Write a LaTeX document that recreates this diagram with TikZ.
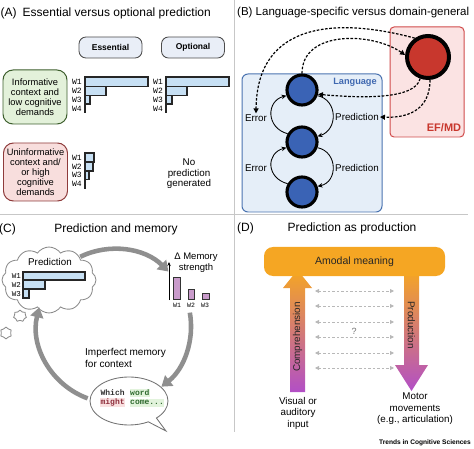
\documentclass[tikz,border=0pt]{standalone}
\usepackage{fontspec}
\setmainfont{Liberation Sans}
\setmonofont{Liberation Mono}
\usetikzlibrary{calc,arrows.meta,shapes.symbols,shapes.callouts}
\def\fsz#1#2{\fontsize{#1}{#2}\selectfont}
\def\hlword#1#2#3{{\setlength{\fboxsep}{0.4pt}\colorbox{#1}{\rule[-1.6pt]{0pt}{7.2pt}\textcolor{#2}{#3}}}}
\definecolor{barblue}{HTML}{C7E0F4}
\definecolor{tagfill}{HTML}{E9EEF7}
\definecolor{greenfill}{HTML}{E3F1DA}
\definecolor{greenline}{HTML}{3E5F2E}
\definecolor{redfill}{HTML}{F8DEDD}
\definecolor{redline}{HTML}{8E3B3B}
\definecolor{langfill}{HTML}{E5EEF8}
\definecolor{langline}{HTML}{4A73B0}
\definecolor{langtext}{HTML}{3F68B0}
\definecolor{efline}{HTML}{D04A4A}
\definecolor{effill}{HTML}{FBE3E3}
\definecolor{efred}{HTML}{C8372D}
\definecolor{nodeblue}{HTML}{3A63B5}
\definecolor{memfill}{HTML}{C99BCB}
\definecolor{loopgray}{HTML}{8F8F8F}
\definecolor{amodal}{HTML}{F5A623}
\definecolor{motor}{HTML}{B24FC6}
\definecolor{wordgreen}{HTML}{E2F3DC}
\definecolor{wordred}{HTML}{F9E0E0}
\definecolor{inkgreen}{HTML}{2F6A2F}
\definecolor{inkred}{HTML}{8E2E3C}
\tikzset{
	paneltitle/.style={font=\fsz{12}{14}, anchor=base west, inner sep=0pt},
	tagbox/.style={draw=black!70, line width=0.3mm, fill=tagfill, rounded corners=7pt, minimum width=63pt, minimum height=21pt, font=\bfseries\fsz{8.5}{10}},
	condbox/.style={line width=0.35mm, rounded corners=10pt, minimum width=64pt, align=center, font=\fsz{9.3}{10}, inner sep=1pt},
	wlabel/.style={font=\ttfamily\fsz{8}{8}, anchor=east, inner sep=1pt},
	wbar/.style={draw=black!85, line width=0.4mm, fill=barblue},
	wordaxis/.style={line width=0.45mm, color=black!85},
	langnode/.style={circle, draw=black, line width=1.1mm, fill=nodeblue, minimum size=30pt, inner sep=0pt},
	errlink/.style={-{Stealth[length=5pt,width=4.5pt]}, line width=0.3mm},
	dotlink/.style={-{Triangle[length=5pt,width=5pt]}, line width=0.42mm, dash pattern=on 2.6pt off 1.6pt},
	cyclearrow/.style={line width=1.6mm, draw=loopgray, -{Triangle[length=10pt,width=13pt]}},
	membar/.style={draw=black!80, line width=0.3mm, fill=memfill},
	qarrow/.style={{Triangle[length=4pt,width=4pt]}-{Triangle[length=4pt,width=4pt]}, draw=black!28, dash pattern=on 2.5pt off 2pt, line width=0.3mm},
	bodytext/.style={font=\fsz{9.8}{11.5}, align=center, inner sep=1pt},
	codeline/.style={font=\ttfamily\bfseries\fsz{8}{9.5}, anchor=west, inner sep=0pt}
}

\begin{document}
\begin{tikzpicture}[x=1pt,y=-1pt]
			%%%%% START %%%%%
			\useasboundingbox (0,0) rectangle (474,449);
			
			\draw[line width=0.3mm, color=black!22] (0,214) -- (468,214);
			\draw[line width=0.3mm, color=black!22] (234,0) -- (234,432);
			
			%%%%% (A) %%%%%
			\node[paneltitle] (titleA) at (0.5,17) {(A)\enspace Essential versus optional prediction};
			\node[tagbox] (essential) at (110.5,47.5) {Essential};
			\node[tagbox] (optional) at (193,47.5) {Optional};
			
			\node[condbox, draw=greenline, fill=greenfill, minimum height=54pt] (informative) at (35,97) {Informative\\context and\\low cognitive\\demands};
			\node[condbox, draw=redline, fill=redfill, minimum height=58pt] (uninformative) at (35.5,172) {Uninformative\\context and/\\or high\\cognitive\\demands};
			
			\draw[wbar] (85,77) rectangle (148,86.5);
			\draw[wbar] (85,86.5) rectangle (106,95.5);
			\draw[wbar] (85,95.5) rectangle (90,104);
			\draw[wordaxis] (85,77) -- (85,113);
			\node[wlabel] (ea1) at (83,81.5) {W1};
			\node[wlabel] (ea2) at (83,91) {W2};
			\node[wlabel] (ea3) at (83,100) {W3};
			\node[wlabel] (ea4) at (83,109) {W4};
			
			\draw[wbar] (166,77) rectangle (229,86.5);
			\draw[wbar] (166,86.5) rectangle (187,95.5);
			\draw[wbar] (166,95.5) rectangle (172,104);
			\draw[wordaxis] (166,77) -- (166,113);
			\node[wlabel] (oa1) at (164,81.5) {W1};
			\node[wlabel] (oa2) at (164,91) {W2};
			\node[wlabel] (oa3) at (164,100) {W3};
			\node[wlabel] (oa4) at (164,109) {W4};
			
			\draw[wbar] (85,153) rectangle (94,162);
			\draw[wbar] (85,162) rectangle (93,171);
			\draw[wbar] (85,171) rectangle (89,179.5);
			\draw[wordaxis] (85,152) -- (85,189);
			\node[wlabel] (eb1) at (83,157.5) {W1};
			\node[wlabel] (eb2) at (83,166.5) {W2};
			\node[wlabel] (eb3) at (83,175) {W3};
			\node[wlabel] (eb4) at (83,184) {W4};
			
			\node[bodytext, font=\fsz{9.8}{10.5}] (noprediction) at (189,174) {No\\prediction\\generated};
			
			%%%%% (B) %%%%%
			\node[paneltitle, font=\fsz{11.5}{14}] (titleB) at (237,16) {(B) Language-specific versus domain-general};
			
			\draw[line width=0.35mm, color=langline, fill=langfill, rounded corners=6pt] (242,74) rectangle (382,212);
			\draw[line width=0.35mm, color=efline, fill=effill, rounded corners=4pt] (390,27) rectangle (464,137);
			\node[font=\bfseries\fsz{9.2}{10}, color=langtext] (language) at (355,82) {Language};
			\node[font=\bfseries\fsz{11}{12}, color=efred] (efmdlabel) at (444,128) {EF/MD};
			
			\node[langnode] (top) at (302,90) {};
			\node[langnode] (mid) at (302,142) {};
			\node[langnode] (bot) at (302,192) {};
			\node[circle, draw=black, line width=1.4mm, fill=efred, minimum size=42pt, inner sep=0pt] (efmd) at (428,57) {};
			
			\node[bodytext] (errup) at (256,118) {Error};
			\node[bodytext] (errdown) at (256,168) {Error};
			\node[bodytext] (predup) at (357,117) {Prediction};
			\node[bodytext] (preddown) at (357,168) {Prediction};
			
			\draw[errlink] (bot.150) .. controls (266,178) and (266,153) .. (mid.200);
			\draw[errlink] (mid.150) .. controls (266,128) and (266,101) .. (top.200);
			\draw[errlink] (top.-20) .. controls (338,100) and (338,130) .. (mid.20);
			\draw[errlink] (mid.-20) .. controls (338,152) and (338,182) .. (bot.20);
			
			\draw[dotlink] (efmd.125) .. controls (340,18) and (257,20) .. (errup.north);
			\draw[dotlink] (top.north) .. controls (302,30) and (372,32) .. (efmd.175);
			\draw[dotlink] (efmd.250) .. controls (415,100) and (360,98) .. (top.-15);
			\draw[dotlink] (efmd.275) .. controls (430,112) and (405,118) .. (predup.east);
			
			%%%%% (C) %%%%%
			\node[paneltitle] (titleC) at (-1,233) {(C)};
			\node[font=\fsz{12}{14}, anchor=base, inner sep=0pt] (headC) at (116,233) {Prediction and memory};
			
			\node[cloud, cloud puffs=12, cloud puff arc=110, aspect=1.5, draw=black!45, line width=0.3mm, fill=white, minimum width=94pt, minimum height=66pt] (thought) at (49,280) {};
			\node[cloud, cloud puffs=7, draw=black!45, line width=0.3mm, fill=white, minimum width=13pt, minimum height=11pt] (puffa) at (20,316) {};
			\node[cloud, cloud puffs=6, draw=black!45, line width=0.3mm, fill=white, minimum width=8pt, minimum height=7pt] (puffb) at (6,333) {};
			\node[bodytext] (predlabel) at (50,262) {Prediction};
			
			\draw[wbar] (23,272) rectangle (85,280);
			\draw[wbar] (23,280) rectangle (45,289);
			\draw[wbar] (23,289) rectangle (29,298);
			\node[wlabel, font=\ttfamily\fsz{7.5}{8}] (ca1) at (22,276) {W1};
			\node[wlabel, font=\ttfamily\fsz{7.5}{8}] (ca2) at (22,285) {W2};
			\node[wlabel, font=\ttfamily\fsz{7.5}{8}] (ca3) at (22,294) {W3};
			
			\node[bodytext, font=\fsz{9.5}{11}] (memstrength) at (196,263) {Δ Memory\\strength};
			\draw[line width=0.3mm, -{Stealth[length=4pt,width=3.5pt]}] (169,300) -- (169,262);
			\draw[membar] (173,277) rectangle (180,299);
			\draw[membar] (188,289) rectangle (194,299);
			\draw[membar] (202,293) rectangle (209,299);
			\node[font=\ttfamily\fsz{6.5}{7}, inner sep=0pt] (m1) at (177,305) {W1};
			\node[font=\ttfamily\fsz{6.5}{7}, inner sep=0pt] (m2) at (191,305) {W2};
			\node[font=\ttfamily\fsz{6.5}{7}, inner sep=0pt] (m3) at (205,305) {W3};
			
			\node[font=\fsz{10}{11.5}, align=left, anchor=west, inner sep=0pt] (imperfect) at (85,358) {Imperfect memory\\for context};
			\node[ellipse callout, draw=black!55, line width=0.3mm, fill=white, minimum width=78pt, minimum height=48pt, callout absolute pointer={(166,431)}] (bubble) at (129,401) {};
			\node[codeline] (lineone) at (100,393) {\hlword{white}{black!80}{Which} \hlword{wordgreen}{inkgreen}{word}};
			\node[codeline] (linetwo) at (100,402.5) {\hlword{wordred}{inkred}{might} \hlword{wordgreen}{inkgreen}{come...}};
			
			\draw[cyclearrow] (114,326) ++(-116:77) arc[start angle=-116, end angle=-45, radius=77];
			\draw[cyclearrow] (114,326) ++(-10:77) arc[start angle=-10, end angle=52, radius=77];
			\draw[cyclearrow] (114,326) ++(110:77) arc[start angle=110, end angle=194, radius=77];
			
			%%%%% (D) %%%%%
			\node[paneltitle] (titleD) at (237,232) {(D)};
			\node[font=\fsz{12}{14}, anchor=base, inner sep=0pt] (headD) at (352,232) {Prediction as production};
			
			\shade[top color=amodal, bottom color=motor] (290,392) -- (305,392) -- (305,288) -- (312,288) -- (297.5,270) -- (283,288) -- (290,288) -- cycle;
			\shade[top color=amodal, bottom color=motor] (404,270) -- (419,270) -- (419,365) -- (428,365) -- (411.5,391) -- (395,365) -- (404,365) -- cycle;
			\node[draw=none, fill=amodal, rounded corners=9pt, minimum width=181pt, minimum height=29pt, font=\fsz{10.5}{12}, text=black!85] (meaning) at (354.5,261.5) {Amodal meaning};
			\node[rotate=90, font=\fsz{9.9}{11}, text=black!85] (comprehension) at (297.5,337) {Comprehension};
			\node[rotate=-90, font=\fsz{9.9}{11}, text=black!85] (production) at (411.5,325) {Production};
			
			\draw[qarrow] (315,291) -- (394,291);
			\draw[qarrow] (315,306) -- (394,306);
			\draw[qarrow] (315,322) -- (394,322);
			\draw[qarrow] (315,337) -- (394,337);
			\draw[qarrow] (315,353) -- (394,353);
			\draw[qarrow] (315,368) -- (394,368);
			\node[font=\fsz{9}{10}, text=black!55] (unknown) at (354,331) {?};
			
			\node[bodytext] (visual) at (298,413) {Visual or\\auditory\\input};
			\node[bodytext] (motormove) at (415,409) {Motor\\movements\\(e.g., articulation)};
			\node[font=\bfseries\fsz{6.6}{7}, anchor=east, inner sep=0pt] (journal) at (471,443) {Trends in Cognitive Sciences};
			
			%%%%% END %%%%%
\end{tikzpicture}
\end{document}
